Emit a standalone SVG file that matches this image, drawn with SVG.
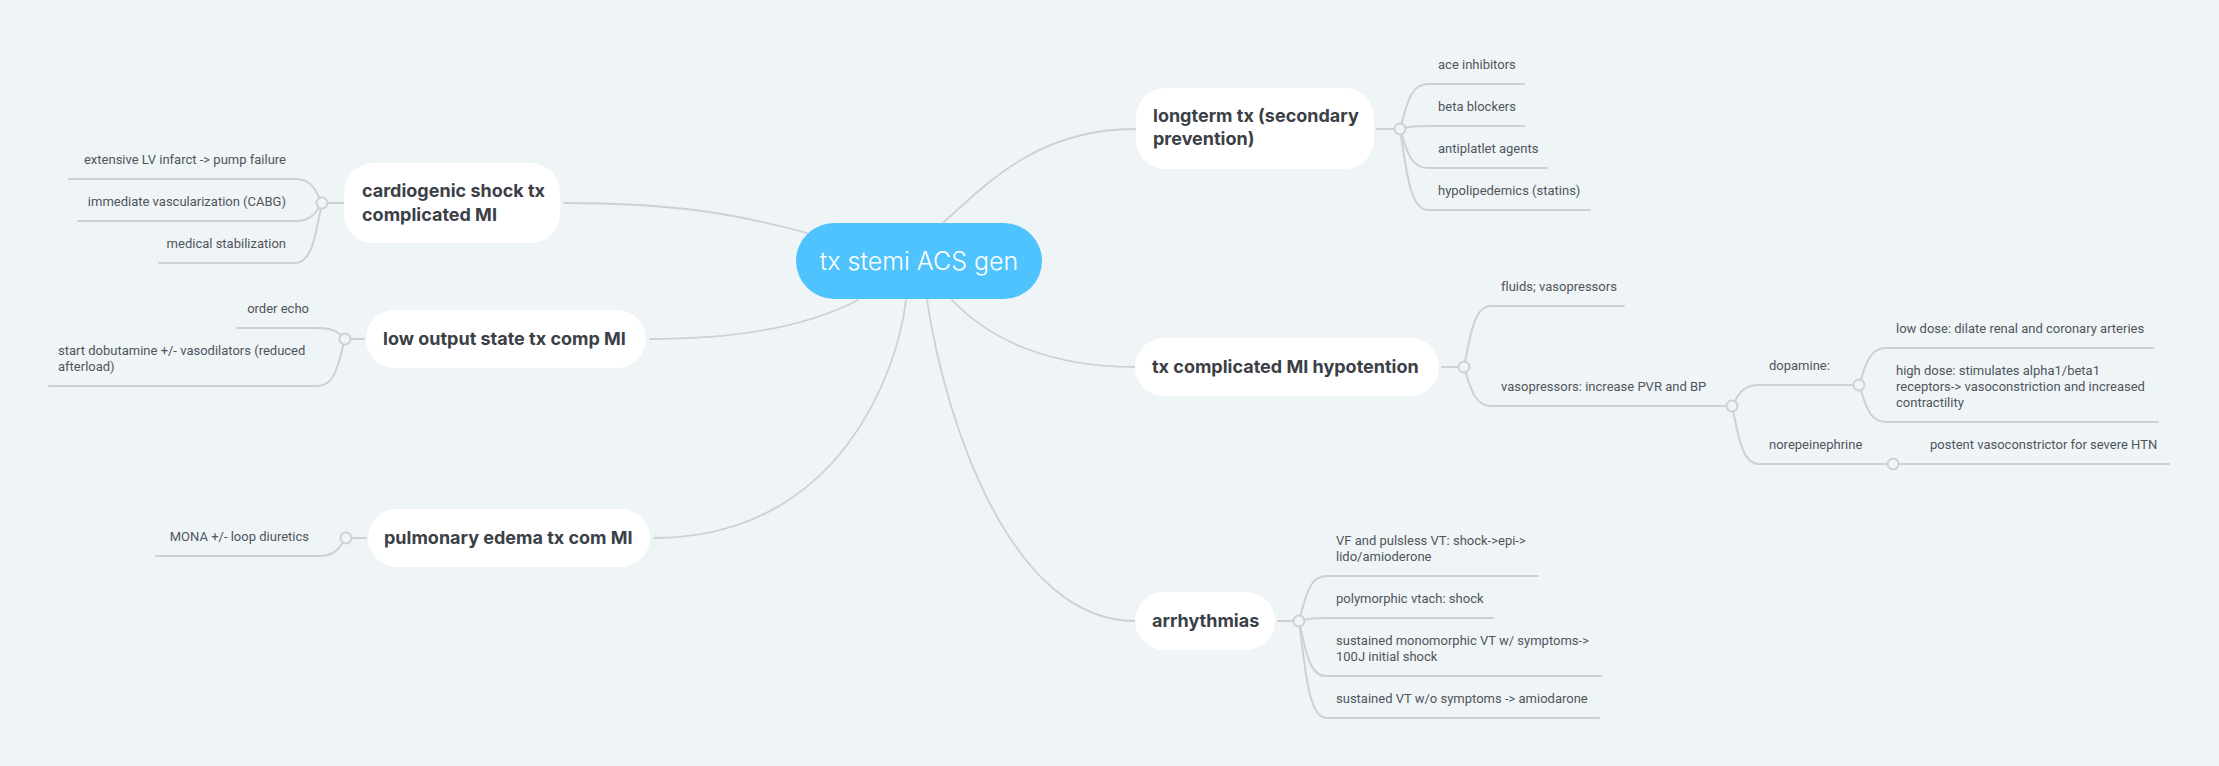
<svg xmlns="http://www.w3.org/2000/svg" width="2219" height="766" viewBox="0 0 2219 766">
<style>
.bg{fill:#eff4f7}
.ln{fill:none;stroke:#ccd1d6;stroke-width:2;stroke-linecap:round}
.mn{fill:none;stroke:#ccd1d6;stroke-width:1.8;stroke-linecap:round}
.dot{fill:#eff4f7;stroke:#ccd1d6;stroke-width:2}
.node{fill:#ffffff}
.root{fill:#4fc3fd}
.nt{font-family:Inter,"Noto Sans","Liberation Sans",sans-serif;font-size:18px;font-weight:700;fill:#3b4047}
.rt{font-family:Inter,"Noto Sans","Liberation Sans",sans-serif;font-size:25px;font-weight:300;fill:#ffffff}
.ct{font-family:Roboto,"Noto Sans","Liberation Sans",sans-serif;font-size:13px;fill:#50555c;font-variant-ligatures:none;font-feature-settings:"liga" 0,"calt" 0}
</style>
<rect class="bg" x="0" y="0" width="2219" height="766"/>
<g id="connectors">
<path class="mn" d="M943,223 C990,180 1040,129 1135,129"/>
<path class="mn" d="M952,300 C990,340 1050,367 1135,367"/>
<path class="mn" d="M927,300 C945,420 1010,621 1135,621"/>
<path class="mn" d="M906,300 C898,370 840,538 654,538"/>
<path class="mn" d="M858,300 C820,320 760,339 650,339"/>
<path class="mn" d="M807,233 C740,215 680,203 564,203"/>
<path class="ln" d="M322,203 H343"/>
<path class="ln" d="M345,339 H364"/>
<path class="ln" d="M346,538 H366"/>
<path class="ln" d="M1377,129 H1400"/>
<path class="ln" d="M1442,367 H1464"/>
<path class="ln" d="M1278,621 H1299"/>
<path class="ln" d="M322,203 C316,192.2 313,179 295,179 H69"/>
<path class="ln" d="M322,203 C316,211.1 313,221 295,221 H78"/>
<path class="ln" d="M322,203 C316,230 313,263 295,263 H159"/>
<path class="ln" d="M345,339 C339,334 336,328 318,328 H237"/>
<path class="ln" d="M345,339 C339,360.2 336,386 318,386 H49"/>
<path class="ln" d="M346,538 C340,546.1 337,556 319,556 H156"/>
<path class="ln" d="M1400,129 C1406,108.8 1409,84 1428,84 H1524"/>
<path class="ln" d="M1400,129 C1406,127.7 1409,126 1428,126 H1524"/>
<path class="ln" d="M1400,129 C1406,146.6 1409,168 1428,168 H1547"/>
<path class="ln" d="M1400,129 C1406,165.5 1409,210 1428,210 H1590"/>
<path class="ln" d="M1464,367 C1470,339.6 1473,306 1491,306 H1624"/>
<path class="ln" d="M1464,367 C1470,384.6 1473,406 1491,406 H1732"/>
<path class="ln" d="M1732,406 C1738,396.6 1741,385 1759,385 H1859"/>
<path class="ln" d="M1732,406 C1738,432.1 1741,464 1759,464 H1893"/>
<path class="ln" d="M1859,385 C1865,368.4 1868,348 1886,348 H2153"/>
<path class="ln" d="M1859,385 C1865,401.7 1868,422 1886,422 H2158"/>
<path class="ln" d="M1893,464 H2169"/>
<path class="ln" d="M1299,621 C1305,600.8 1308,576 1326,576 H1538"/>
<path class="ln" d="M1299,621 C1305,619.7 1308,618 1326,618 H1493"/>
<path class="ln" d="M1299,621 C1305,645.8 1308,676 1326,676 H1601"/>
<path class="ln" d="M1299,621 C1305,664.7 1308,718 1326,718 H1599"/>
<circle class="dot" cx="322" cy="203" r="5.5"/>
<circle class="dot" cx="345" cy="339" r="5.5"/>
<circle class="dot" cx="346" cy="538" r="5.5"/>
<circle class="dot" cx="1400" cy="129" r="5.5"/>
<circle class="dot" cx="1464" cy="367" r="5.5"/>
<circle class="dot" cx="1732" cy="406" r="5.5"/>
<circle class="dot" cx="1859" cy="385" r="5.5"/>
<circle class="dot" cx="1893" cy="464" r="5.5"/>
<circle class="dot" cx="1299" cy="621" r="5.5"/>
</g>
<g id="root">
<rect class="root" x="796" y="223" width="246" height="76" rx="38"/>
<text class="rt" x="919" y="270" text-anchor="middle">tx stemi ACS gen</text>
</g>
<g id="cardiogenic">
<rect class="node" x="344" y="163" width="216" height="80" rx="29"/>
<text class="nt" x="362" y="197">cardiogenic shock tx</text>
<text class="nt" x="362" y="221">complicated MI</text>
</g>
<g id="lowoutput">
<rect class="node" x="366" y="310" width="280" height="58" rx="29"/>
<text class="nt" x="383" y="345">low output state tx comp MI</text>
</g>
<g id="pulmonary">
<rect class="node" x="368" y="509" width="282" height="58" rx="29"/>
<text class="nt" x="384" y="544">pulmonary edema tx com MI</text>
</g>
<g id="longterm">
<rect class="node" x="1136" y="88" width="238" height="81" rx="29"/>
<text class="nt" x="1153" y="122">longterm tx (secondary</text>
<text class="nt" x="1153" y="145">prevention)</text>
</g>
<g id="hypotension">
<rect class="node" x="1135" y="338" width="304" height="58" rx="29"/>
<text class="nt" x="1152" y="373">tx complicated MI hypotention</text>
</g>
<g id="arrhythmias">
<rect class="node" x="1135" y="592" width="140" height="58" rx="29"/>
<text class="nt" x="1152" y="627">arrhythmias</text>
</g>
<g id="cardiogenic-children">
<text class="ct" x="286" y="164" text-anchor="end">extensive LV infarct -&gt; pump failure</text>
<text class="ct" x="286" y="206" text-anchor="end">immediate vascularization (CABG)</text>
<text class="ct" x="286" y="248" text-anchor="end">medical stabilization</text>
</g>
<g id="lowoutput-children">
<text class="ct" x="309" y="313" text-anchor="end">order echo</text>
<text class="ct" x="58" y="355">start dobutamine +/- vasodilators (reduced</text>
<text class="ct" x="58" y="371">afterload)</text>
</g>
<g id="pulmonary-children">
<text class="ct" x="309" y="541" text-anchor="end">MONA +/- loop diuretics</text>
</g>
<g id="longterm-children">
<text class="ct" x="1438" y="69">ace inhibitors</text>
<text class="ct" x="1438" y="111">beta blockers</text>
<text class="ct" x="1438" y="153">antiplatlet agents</text>
<text class="ct" x="1438" y="195">hypolipedemics (statins)</text>
</g>
<g id="hypotension-children">
<text class="ct" x="1501" y="291">fluids; vasopressors</text>
<text class="ct" x="1501" y="391">vasopressors: increase PVR and BP</text>
<text class="ct" x="1769" y="370">dopamine:</text>
<text class="ct" x="1769" y="449">norepeinephrine</text>
<text class="ct" x="1896" y="333">low dose: dilate renal and coronary arteries</text>
<text class="ct" x="1896" y="375">high dose: stimulates alpha1/beta1</text>
<text class="ct" x="1896" y="391">receptors-&gt; vasoconstriction and increased</text>
<text class="ct" x="1896" y="407">contractility</text>
<text class="ct" x="1930" y="449">postent vasoconstrictor for severe HTN</text>
</g>
<g id="arrhythmias-children">
<text class="ct" x="1336" y="545">VF and pulsless VT: shock-&gt;epi-&gt;</text>
<text class="ct" x="1336" y="561">lido/amioderone</text>
<text class="ct" x="1336" y="603">polymorphic vtach: shock</text>
<text class="ct" x="1336" y="645">sustained monomorphic VT w/ symptoms-&gt;</text>
<text class="ct" x="1336" y="661">100J initial shock</text>
<text class="ct" x="1336" y="703">sustained VT w/o symptoms -&gt; amiodarone</text>
</g>
</svg>
